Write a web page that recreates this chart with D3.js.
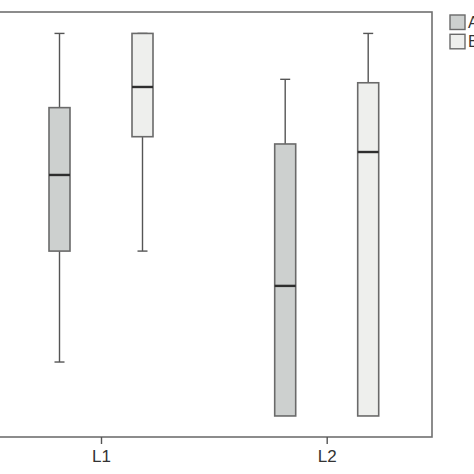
<!DOCTYPE html>
<html>
<head>
<meta charset="utf-8">
<script src="https://cdn.jsdelivr.net/npm/d3@7"></script>
<style>
body { margin: 0; background: #fff; }
text { font-family: "Liberation Sans", Arial, sans-serif; }
</style>
</head>
<body>
<script>
var categories = ["L1", "L2"];
var groups = ["A", "B"];
var groupColors = ["#cdd0cf", "#eeefed"];

// five-number summaries per category, per group: [min, q1, median, q3, max]
var seriesA = [[14.1, 43.1, 63.0, 80.6, 100], [0, 0, 34.0, 71.1, 88.0]];
var seriesB = [[43.1, 73.0, 86.0, 100, 100], [0, 0, 69.0, 87.1, 100]];

function drawBoxplot(){
	var width = 474, height = 474;
	var frame = {left: -20, top: 12, right: 432, bottom: 437};

	var svg = d3.select("body").append("svg").attr("width", width).attr("height", height);

	var x = d3.scalePoint().domain(categories).range([101, 326.7]);
	var xSub = d3.scalePoint().domain(groups).range([-41.5, 41.5]);
	var y = d3.scaleLinear().domain([-5.5, 105.6]).range([frame.bottom, frame.top]);
	var boxW = 21, capW = 10;

	// frame
	svg.append("rect")
		.attr("x", frame.left).attr("y", frame.top)
		.attr("width", frame.right - frame.left).attr("height", frame.bottom - frame.top)
		.style("fill", "none").style("stroke", "#707070").style("stroke-width", 1.6);

	// x axis ticks + labels
	var xAxis = d3.axisBottom(x).tickSize(7).tickPadding(0);
	var gx = svg.append("g").attr("transform", "translate(0," + frame.bottom + ")").call(xAxis);
	gx.select(".domain").remove();
	gx.selectAll(".tick line").style("stroke", "#555").style("stroke-width", 1.4);
	gx.selectAll(".tick text").attr("dy", null).attr("y", 25)
		.style("font-size", "17px").style("fill", "#333")
		.style("font-family", "'Liberation Sans', Arial, sans-serif");

	var allSeries = [seriesA, seriesB];
	var boxes = [];
	groups.forEach(function(g, gi){
		categories.forEach(function(c, ci){
			boxes.push({cat: c, group: g, gi: gi, s: allSeries[gi][ci]});
		});
	});

	var bx = svg.selectAll("g.box").data(boxes).enter().append("g")
		.attr("class", "box")
		.attr("transform", function(d){ return "translate(" + (x(d.cat) + xSub(d.group)) + ",0)"; });

	// whiskers
	bx.append("line").attr("x1", 0).attr("x2", 0)
		.attr("y1", function(d){ return y(d.s[4]); })
		.attr("y2", function(d){ return y(d.s[3]); })
		.style("stroke", "#555").style("stroke-width", 1.4);
	bx.append("line").attr("x1", 0).attr("x2", 0)
		.attr("y1", function(d){ return y(d.s[1]); })
		.attr("y2", function(d){ return y(d.s[0]); })
		.style("stroke", "#555").style("stroke-width", 1.4);
	bx.append("line").attr("x1", -capW / 2).attr("x2", capW / 2)
		.attr("y1", function(d){ return y(d.s[4]); })
		.attr("y2", function(d){ return y(d.s[4]); })
		.style("stroke", "#555").style("stroke-width", 1.4);
	bx.filter(function(d){ return d.s[0] < d.s[1]; })
		.append("line").attr("x1", -capW / 2).attr("x2", capW / 2)
		.attr("y1", function(d){ return y(d.s[0]); })
		.attr("y2", function(d){ return y(d.s[0]); })
		.style("stroke", "#555").style("stroke-width", 1.4);

	// box
	bx.append("rect")
		.attr("x", -boxW / 2).attr("width", boxW)
		.attr("y", function(d){ return y(d.s[3]); })
		.attr("height", function(d){ return y(d.s[1]) - y(d.s[3]); })
		.style("fill", function(d){ return groupColors[d.gi]; })
		.style("stroke", "#6a6a6a").style("stroke-width", 1.6);

	// median
	bx.append("line").attr("x1", -boxW / 2).attr("x2", boxW / 2)
		.attr("y1", function(d){ return y(d.s[2]); })
		.attr("y2", function(d){ return y(d.s[2]); })
		.style("stroke", "#2e2e2e").style("stroke-width", 2.4);

	// legend
	var legend = svg.selectAll("g.legend").data(groups).enter().append("g")
		.attr("class", "legend")
		.attr("transform", function(d, i){ return "translate(450," + (15 + i * 19.3) + ")"; });
	legend.append("rect").attr("width", 15).attr("height", 14.5)
		.style("fill", function(d, i){ return groupColors[i]; })
		.style("stroke", "#6a6a6a").style("stroke-width", 1.4);
	legend.append("text").attr("x", 18).attr("y", 13)
		.style("font-size", "16px").style("fill", "#333")
		.text(function(d){ return d; });
}

drawBoxplot();
</script>
</body>
</html>
